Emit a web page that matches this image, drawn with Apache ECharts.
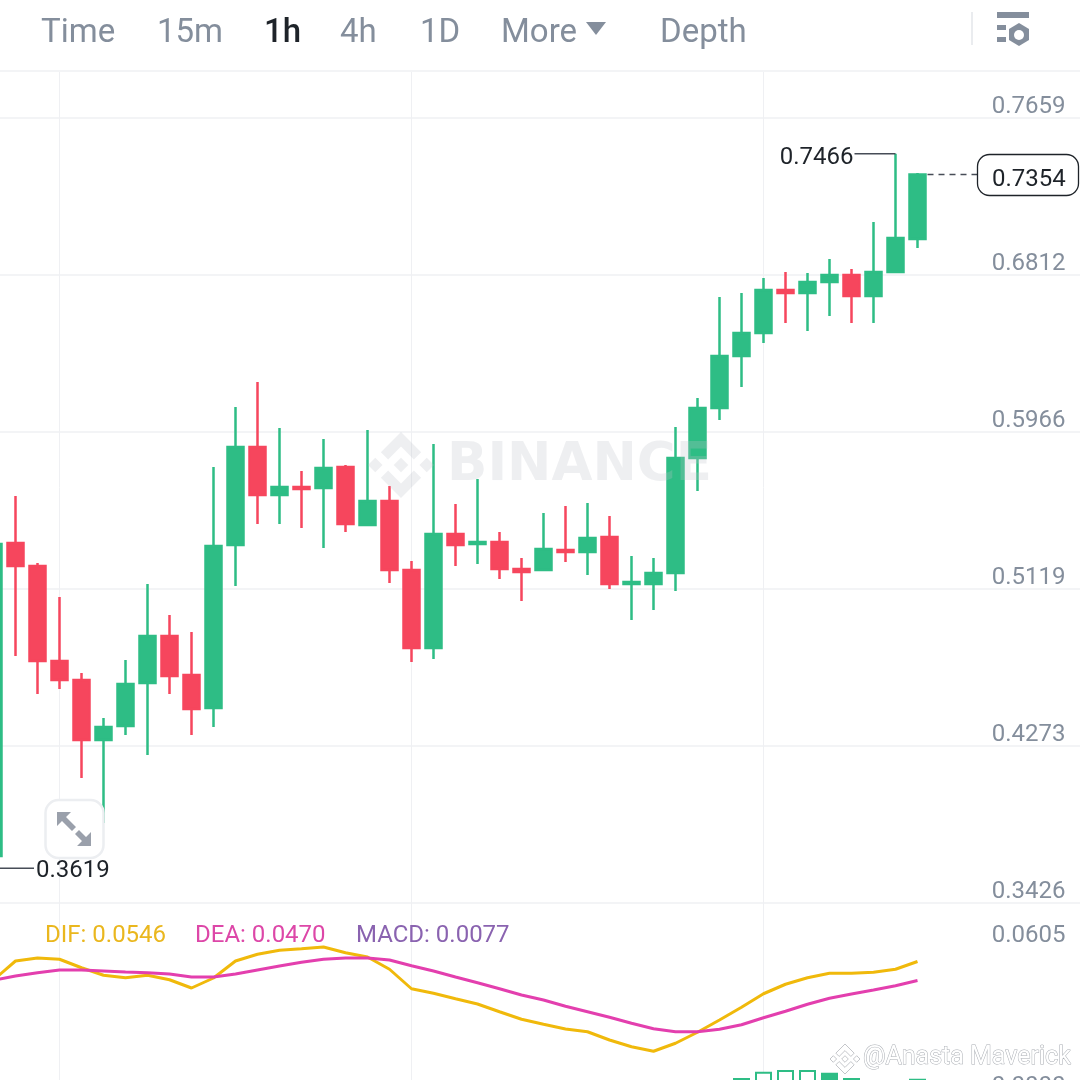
<!DOCTYPE html>
<html>
<head>
<meta charset="utf-8">
<title>1h chart</title>
<script src="https://cdn.jsdelivr.net/npm/echarts@6/dist/echarts.min.js"></script>
<style>
  html, body { margin: 0; padding: 0; background: #fff; }
  #chart { width: 1080px; height: 1080px; overflow: hidden; }
</style>
</head>
<body>
<div id="chart"></div>
<script>
// candles: [open, close, low, high], oldest first
const candles = [
  [0.3679, 0.5362, 0.3619, 0.5437],
  [0.5367, 0.5243, 0.4758, 0.5621],
  [0.5243, 0.4731, 0.4553, 0.5259],
  [0.4731, 0.4628, 0.4580, 0.5076],
  [0.4628, 0.4305, 0.4100, 0.4666],
  [0.4305, 0.4375, 0.3857, 0.4424],
  [0.4380, 0.4607, 0.4332, 0.4736],
  [0.4612, 0.4866, 0.4224, 0.5146],
  [0.4866, 0.4650, 0.4553, 0.4979],
  [0.4655, 0.4472, 0.4332, 0.4887],
  [0.4477, 0.5351, 0.4375, 0.5777],
  [0.5356, 0.5885, 0.5135, 0.6101],
  [0.5885, 0.5626, 0.5470, 0.6235],
  [0.5626, 0.5669, 0.5470, 0.5987],
  [0.5669, 0.5658, 0.5448, 0.5755],
  [0.5664, 0.5772, 0.5340, 0.5928],
  [0.5777, 0.5470, 0.5426, 0.5788],
  [0.5464, 0.5594, 0.5464, 0.5977],
  [0.5594, 0.5222, 0.5152, 0.5675],
  [0.5222, 0.4801, 0.4726, 0.5270],
  [0.4801, 0.5416, 0.4742, 0.5901],
  [0.5416, 0.5356, 0.5243, 0.5578],
  [0.5362, 0.5373, 0.5254, 0.5712],
  [0.5373, 0.5227, 0.5173, 0.5426],
  [0.5227, 0.5211, 0.5054, 0.5286],
  [0.5222, 0.5335, 0.5222, 0.5529],
  [0.5330, 0.5319, 0.5265, 0.5567],
  [0.5319, 0.5394, 0.5195, 0.5583],
  [0.5400, 0.5146, 0.5119, 0.5513],
  [0.5146, 0.5157, 0.4952, 0.5297],
  [0.5146, 0.5205, 0.5006, 0.5286],
  [0.5205, 0.5826, 0.5108, 0.5993],
  [0.5826, 0.6095, 0.5648, 0.6149],
  [0.6095, 0.6376, 0.6030, 0.6694],
  [0.6376, 0.6500, 0.6208, 0.6715],
  [0.6500, 0.6732, 0.6446, 0.6796],
  [0.6732, 0.6715, 0.6554, 0.6829],
  [0.6715, 0.6775, 0.6510, 0.6823],
  [0.6775, 0.6812, 0.6591, 0.6899],
  [0.6812, 0.6699, 0.6554, 0.6845],
  [0.6699, 0.6829, 0.6554, 0.7098],
  [0.6829, 0.7012, 0.6829, 0.7466],
  [0.7006, 0.7354, 0.6958, 0.7362]
];
const dif = [
  0.0472, 0.0548, 0.0560, 0.0555, 0.0521, 0.0491, 0.0481, 0.0491, 0.0473, 0.0440, 0.0480,
  0.0548, 0.0575, 0.0591, 0.0597, 0.0604, 0.0581, 0.0564, 0.0515, 0.0437, 0.0419, 0.0397,
  0.0376, 0.0345, 0.0315, 0.0295, 0.0276, 0.0265, 0.0232, 0.0205, 0.0187, 0.0219, 0.0263,
  0.0312, 0.0363, 0.0417, 0.0455, 0.0481, 0.0499, 0.0499, 0.0503, 0.0515, 0.0546
];
const dea = [
  0.0471, 0.0488, 0.0501, 0.0512, 0.0512, 0.0508, 0.0504, 0.0501, 0.0496, 0.0484, 0.0484,
  0.0496, 0.0512, 0.0528, 0.0543, 0.0555, 0.0560, 0.0560, 0.0552, 0.0529, 0.0508, 0.0484,
  0.0461, 0.0437, 0.0412, 0.0392, 0.0367, 0.0345, 0.0323, 0.0299, 0.0277, 0.0265, 0.0265,
  0.0275, 0.0293, 0.0321, 0.0347, 0.0375, 0.0399, 0.0416, 0.0432, 0.0449, 0.0470
];
const macd = [
  0.0001, 0.0060, 0.0059, 0.0043, 0.0009, -0.0017, -0.0023, -0.0010, -0.0023, -0.0044, -0.0004,
  0.0052, 0.0063, 0.0063, 0.0054, 0.0049, 0.0021, 0.0004, -0.0037, -0.0092, -0.0089, -0.0087,
  -0.0085, -0.0092, -0.0097, -0.0097, -0.0091, -0.0080, -0.0091, -0.0094, -0.0090, -0.0046, -0.0002,
  0.0037, 0.0080, 0.0105, 0.0112, 0.0112, 0.0101, 0.0080, 0.0071, 0.0066, 0.0077
];
const priceTicks = [0.7659, 0.6812, 0.5966, 0.5119, 0.4273, 0.3426];
const macdTicks = [0.0605, 0];
const tabs = ['Time', '15m', '1h', '4h', '1D', 'More', 'Depth'];
const activeTab = '1h';
const legendItems = ['DIF: 0.0546', 'DEA: 0.0470', 'MACD: 0.0077'];

const lowPrice = 0.3619, highPrice = 0.7466, lastPrice = 0.7354;
const lowIndex = 0, highIndex = 41, lastIndex = 42;

// 43 candles plus empty slots on the right
const slots = Array.from({ length: 50 }, (_, i) => String(i));

const UP = '#2ebd85', DOWN = '#f6465d';
const GRIDLINE = '#eff0f3', GREY = '#848e9c', INK = '#1e2329';
const FONT = 'Roboto';

const chart = echarts.init(document.getElementById('chart'), null, { renderer: 'canvas' });

const xBase = {
  type: 'category', data: slots, boundaryGap: true,
  axisLine: { show: false }, axisTick: { show: false }, axisLabel: { show: false },
  splitLine: {
    show: true, alignWithLabel: true,
    interval: i => i % 16 === 3,
    lineStyle: { color: GRIDLINE, width: 1 }
  }
};
const yLabels = ticks => ({
  inside: true, customValues: ticks, margin: 17,
  color: GREY, fontFamily: FONT, fontSize: 24, lineHeight: 22, align: 'right', verticalAlign: 'bottom',
  formatter: v => v.toFixed(4)
});

chart.setOption({
  animation: false,
  grid: [
    { left: -17.5, right: -2.5, top: 72, height: 831, outerBoundsMode: 'none' },
    { left: -17.5, right: -2.5, top: 903, height: 195, outerBoundsMode: 'none' }
  ],
  xAxis: [
    Object.assign({ gridIndex: 0 }, xBase),
    Object.assign({ gridIndex: 1 }, xBase)
  ],
  yAxis: [
    {
      gridIndex: 0, type: 'value', position: 'right', scale: true,
      min: 0.3426, max: 0.7907,
      axisLine: { show: false },
      axisTick: { show: false, customValues: priceTicks },
      axisLabel: yLabels(priceTicks),
      splitLine: { show: true, lineStyle: { color: GRIDLINE, width: 1.5 } }
    },
    {
      gridIndex: 1, type: 'value', position: 'right', scale: true,
      min: 0, max: 0.078,
      axisLine: { show: false },
      axisTick: { show: false, customValues: macdTicks },
      axisLabel: yLabels(macdTicks),
      splitLine: { show: false }
    }
  ],
  series: [
    {
      type: 'candlestick', xAxisIndex: 0, yAxisIndex: 0, data: candles, barWidth: 16.5,
      itemStyle: { color: UP, color0: DOWN, borderColor: UP, borderColor0: DOWN, borderWidth: 2.5 }
    },
    {
      type: 'bar', xAxisIndex: 1, yAxisIndex: 1, data: macd, barWidth: 17,
      itemStyle: {
        // rising bars are hollow
        color: p => (p.dataIndex > 0 && macd[p.dataIndex] >= macd[p.dataIndex - 1]) ? '#fff' : UP,
        borderColor: UP, borderWidth: 2
      }
    },
    {
      type: 'line', xAxisIndex: 1, yAxisIndex: 1, data: dif, showSymbol: false, z: 5,
      lineStyle: { color: '#f0b90b', width: 3 }
    },
    {
      type: 'line', xAxisIndex: 1, yAxisIndex: 1, data: dea, showSymbol: false, z: 5,
      lineStyle: { color: '#e33fae', width: 3 }
    }
  ]
});

// --- chrome and annotations, placed from the chart's own scale
const px = (i, v) => chart.convertToPixel({ gridIndex: 0 }, [i, v]);
const graphics = [];
const label = (text, x, y, o) => graphics.push({
  type: 'text', x, y, z: 20,
  style: Object.assign({ text, fill: GREY, fontFamily: FONT, fontSize: 24, verticalAlign: 'middle' }, o)
});
const line = (x1, y1, x2, y2, stroke, width, dash) => graphics.push({
  type: 'line', z: 15, shape: { x1, y1, x2, y2 },
  style: { stroke, lineWidth: width, lineDash: dash || null }
});
const poly = (points, fill, z) => graphics.push({ type: 'polygon', z: z || 20, shape: { points }, style: { fill } });

// toolbar
graphics.push({ type: 'rect', z: 14, shape: { x: 0, y: 0, width: 1080, height: 70 }, style: { fill: '#fff' } });
graphics.push({ type: 'rect', z: 15, shape: { x: 0, y: 70, width: 1080, height: 2 }, style: { fill: '#f3f4f6' } });
const tabX = [41, 157, 264, 340, 420, 501, 660];
tabs.forEach((t, i) => label(t, tabX[i], 34, {
  fontSize: 33, fill: t === activeTab ? INK : GREY,
  fontWeight: t === activeTab ? 500 : 400
}));
poly([[586, 22], [606, 22], [596, 35]], GREY);
graphics.push({ type: 'rect', z: 20, shape: { x: 971, y: 12, width: 2, height: 33 }, style: { fill: '#eaecef' } });
graphics.push({ type: 'rect', z: 20, shape: { x: 997, y: 12, width: 32, height: 6 }, style: { fill: GREY } });
graphics.push({ type: 'rect', z: 20, shape: { x: 997, y: 25, width: 9, height: 5 }, style: { fill: GREY } });
graphics.push({ type: 'rect', z: 20, shape: { x: 997, y: 37, width: 9, height: 5 }, style: { fill: GREY } });
poly([[1019, 23], [1029, 29], [1029, 40], [1019, 46], [1009, 40], [1009, 29]], GREY);
graphics.push({ type: 'circle', z: 21, shape: { cx: 1019, cy: 35, r: 5 }, style: { fill: '#fff' } });

// high, low and last price
const hi = px(highIndex, highPrice);
line(hi[0] - 41, hi[1], hi[0], hi[1], '#474d57', 1.5);
label(highPrice.toFixed(4), hi[0] - 42, hi[1] + 4, { fill: INK, fontSize: 24, align: 'right' });
const lo = px(lowIndex, lowPrice);
line(0, lo[1] + 1, 34, lo[1] + 1, '#474d57', 1.5);
label(lowPrice.toFixed(4), 36, lo[1] + 4, { fill: INK, fontSize: 24 });
const last = px(lastIndex, lastPrice);
line(last[0] + 10, last[1], 977, last[1], '#474d57', 1.5, [6, 5]);
graphics.push({
  type: 'rect', z: 20, shape: { x: 977.5, y: 154.5, width: 101, height: 41, r: 12 },
  style: { fill: '#fff', stroke: INK, lineWidth: 1.3 }
});
label(lastPrice.toFixed(4), 992, 180, { fill: INK, fontSize: 24 });

// legend above the MACD pane
const legendX = [45, 195, 356];
const legendColor = ['#eab71e', '#dd47a8', '#8a63b0'];
legendItems.forEach((t, i) => label(t, legendX[i], 936, { fill: legendColor[i], fontSize: 24 }));

// expand button
graphics.push({
  type: 'rect', z: 20, shape: { x: 45.5, y: 800, width: 58, height: 58, r: 13 },
  style: { fill: '#fff', stroke: '#eceef1', lineWidth: 2.5 }
});
poly([[57, 812], [71, 812], [66, 817], [76, 827], [72, 831], [62, 821], [57, 826]], '#9aa0ab', 21);
poly([[91, 846], [77, 846], [82, 841], [75, 834], [79, 830], [86, 837], [91, 832]], '#9aa0ab', 21);

// watermarks
const logo = (cx, cy, r, style, z) => {
  const shapes = [
    [[0, -1], [0.61, -0.39], [0.39, -0.17], [0, -0.56], [-0.39, -0.17], [-0.61, -0.39]],
    [[0, 1], [0.61, 0.39], [0.39, 0.17], [0, 0.56], [-0.39, 0.17], [-0.61, 0.39]],
    [[0, -0.22], [0.22, 0], [0, 0.22], [-0.22, 0]],
    [[-0.78, -0.22], [-0.56, 0], [-0.78, 0.22], [-1, 0]],
    [[0.78, -0.22], [1, 0], [0.78, 0.22], [0.56, 0]]
  ];
  shapes.forEach(s => graphics.push({
    type: 'polygon', z, shape: { points: s.map(p => [cx + p[0] * r, cy + p[1] * r]) }, style
  }));
};
logo(401, 465, 33, { fill: 'rgba(190,195,200,0.26)' }, 12);
label('BINANCE', 447, 466, { fontFamily: 'DejaVu Sans', fontWeight: 'bold', fontSize: 53, fill: 'rgba(190,195,200,0.26)' });
logo(845, 1059, 15, { fill: '#fff', stroke: '#b5b8bd', lineWidth: 0.8 }, 22);
label('@Anasta Maverick', 863, 1058, { fontSize: 25, fill: '#fff', stroke: '#a9adb3', lineWidth: 1 });

chart.setOption({ graphic: graphics });
</script>
</body>
</html>
